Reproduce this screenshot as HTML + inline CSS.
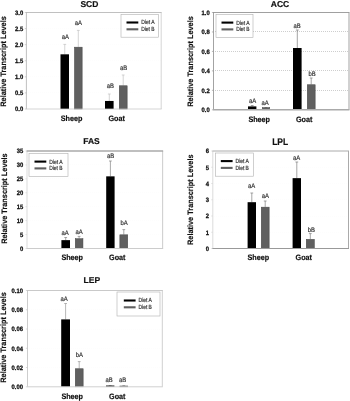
<!DOCTYPE html>
<html><head><meta charset="utf-8"><title>Relative Transcript Levels</title>
<style>html,body{margin:0;padding:0;background:#fff}svg{display:block}text{font-family:"Liberation Sans", sans-serif;text-rendering:geometricPrecision}.b{font-weight:bold;fill:#111;stroke:#111;stroke-width:0.18}.r{stroke-width:0.2}.t{stroke-width:0.28}</style></head>
<body>
<svg width="350" height="401" viewBox="0 0 350 401">
<rect width="350" height="401" fill="#fff"/>
<g>
<line x1="28" y1="92.5" x2="161.2" y2="92.5" stroke="#fcfcfc" stroke-width="0.8" stroke-dasharray="1 1"/>
<line x1="28" y1="76.5" x2="161.2" y2="76.5" stroke="#fcfcfc" stroke-width="0.8" stroke-dasharray="1 1"/>
<line x1="28" y1="60.5" x2="161.2" y2="60.5" stroke="#fcfcfc" stroke-width="0.8" stroke-dasharray="1 1"/>
<line x1="28" y1="44.5" x2="161.2" y2="44.5" stroke="#fcfcfc" stroke-width="0.8" stroke-dasharray="1 1"/>
<line x1="28" y1="28.5" x2="161.2" y2="28.5" stroke="#fcfcfc" stroke-width="0.8" stroke-dasharray="1 1"/>
<line x1="161.2" y1="12.5" x2="161.2" y2="109" stroke="#cacaca" stroke-width="0.8"/>
<line x1="26.4" y1="12.5" x2="26.4" y2="109" stroke="#b0b0b0" stroke-width="0.8"/>
<line x1="26" y1="12.5" x2="161.6" y2="12.5" stroke="#b0b0b0" stroke-width="0.8"/>
<line x1="24.8" y1="109" x2="26.4" y2="109" stroke="#b0b0b0" stroke-width="0.6"/>
<text transform="translate(23.2 111.3) scale(0.93 1)" font-size="6.3" class="b t" text-anchor="end">0.0</text>
<line x1="24.8" y1="92.92" x2="26.4" y2="92.92" stroke="#b0b0b0" stroke-width="0.6"/>
<text transform="translate(23.2 95.22) scale(0.93 1)" font-size="6.3" class="b t" text-anchor="end">0.5</text>
<line x1="24.8" y1="76.83" x2="26.4" y2="76.83" stroke="#b0b0b0" stroke-width="0.6"/>
<text transform="translate(23.2 79.13) scale(0.93 1)" font-size="6.3" class="b t" text-anchor="end">1.0</text>
<line x1="24.8" y1="60.75" x2="26.4" y2="60.75" stroke="#b0b0b0" stroke-width="0.6"/>
<text transform="translate(23.2 63.05) scale(0.93 1)" font-size="6.3" class="b t" text-anchor="end">1.5</text>
<line x1="24.8" y1="44.67" x2="26.4" y2="44.67" stroke="#b0b0b0" stroke-width="0.6"/>
<text transform="translate(23.2 46.97) scale(0.93 1)" font-size="6.3" class="b t" text-anchor="end">2.0</text>
<line x1="24.8" y1="28.58" x2="26.4" y2="28.58" stroke="#b0b0b0" stroke-width="0.6"/>
<text transform="translate(23.2 30.88) scale(0.93 1)" font-size="6.3" class="b t" text-anchor="end">2.5</text>
<line x1="24.8" y1="12.5" x2="26.4" y2="12.5" stroke="#b0b0b0" stroke-width="0.6"/>
<text transform="translate(23.2 14.8) scale(0.93 1)" font-size="6.3" class="b t" text-anchor="end">3.0</text>
<line x1="64.75" y1="44.4" x2="64.75" y2="54.32" stroke="#c2c2c2" stroke-width="0.7"/>
<line x1="63.35" y1="44.4" x2="66.15" y2="44.4" stroke="#c2c2c2" stroke-width="0.7"/>
<rect x="60.5" y="54.32" width="8.5" height="54.68" fill="#000"/>
<text transform="translate(65.4 39.1) scale(0.92 1)" font-size="6.45" class="r" text-anchor="middle" fill="#383838" stroke="#383838">aA</text>
<line x1="78.3" y1="30.4" x2="78.3" y2="46.92" stroke="#c2c2c2" stroke-width="0.7"/>
<line x1="76.9" y1="30.4" x2="79.7" y2="30.4" stroke="#c2c2c2" stroke-width="0.7"/>
<rect x="74.45" y="47.17" width="7.7" height="61.83" fill="#606060" stroke="#444" stroke-width="0.5"/>
<text transform="translate(78.4 25.1) scale(0.92 1)" font-size="6.45" class="r" text-anchor="middle" fill="#383838" stroke="#383838">aA</text>
<line x1="109.3" y1="94" x2="109.3" y2="100.96" stroke="#c2c2c2" stroke-width="0.7"/>
<line x1="107.9" y1="94" x2="110.7" y2="94" stroke="#c2c2c2" stroke-width="0.7"/>
<rect x="105" y="100.96" width="8.6" height="8.04" fill="#000"/>
<text transform="translate(110.4 88.1) scale(0.92 1)" font-size="6.45" class="r" text-anchor="middle" fill="#383838" stroke="#383838">aB</text>
<line x1="123.2" y1="75" x2="123.2" y2="85.52" stroke="#c2c2c2" stroke-width="0.7"/>
<line x1="121.8" y1="75" x2="124.6" y2="75" stroke="#c2c2c2" stroke-width="0.7"/>
<rect x="119.25" y="85.77" width="7.9" height="23.23" fill="#606060" stroke="#444" stroke-width="0.5"/>
<text transform="translate(123.6 70.1) scale(0.92 1)" font-size="6.45" class="r" text-anchor="middle" fill="#383838" stroke="#383838">aB</text>
<line x1="26" y1="109" x2="161.6" y2="109" stroke="#cacaca" stroke-width="0.8"/>
<rect x="121" y="14.4" width="37.4" height="22.8" fill="#fff" stroke="#b0b0b0" stroke-width="0.6"/>
<line x1="126.5" y1="22.5" x2="138.3" y2="22.5" stroke="#000" stroke-width="2.1"/>
<line x1="126.5" y1="29.3" x2="138.3" y2="29.3" stroke="#606060" stroke-width="2.1"/>
<text x="141.2" y="24.4" font-size="6.0" class="r" textLength="13.4" lengthAdjust="spacingAndGlyphs" fill="#333" stroke="#333">Diet A</text>
<text x="141.2" y="31.2" font-size="6.0" class="r" textLength="13.4" lengthAdjust="spacingAndGlyphs" fill="#333" stroke="#333">Diet B</text>
<text transform="translate(71.5 120.95) scale(0.92 1)" font-size="7.85" class="b" text-anchor="middle">Sheep</text>
<text transform="translate(116.7 120.95) scale(0.92 1)" font-size="7.85" class="b" text-anchor="middle">Goat</text>
<text x="89.4" y="6.8" font-size="8.5" class="b" text-anchor="middle">SCD</text>
<text transform="translate(5.9 61.5) rotate(-90) scale(0.935 1)" font-size="7.85" class="b" text-anchor="middle">Relative Transcript Levels</text>
</g>
<g>
<line x1="215" y1="90.5" x2="349" y2="90.5" stroke="#cecece" stroke-width="1.0" stroke-dasharray="1 1"/>
<line x1="215" y1="70.5" x2="349" y2="70.5" stroke="#cecece" stroke-width="1.0" stroke-dasharray="1 1"/>
<line x1="215" y1="51.5" x2="349" y2="51.5" stroke="#cecece" stroke-width="1.0" stroke-dasharray="1 1"/>
<line x1="215" y1="31.5" x2="349" y2="31.5" stroke="#cecece" stroke-width="1.0" stroke-dasharray="1 1"/>
<line x1="349" y1="12.5" x2="349" y2="109.8" stroke="#999" stroke-width="0.9"/>
<line x1="213.5" y1="12.5" x2="213.5" y2="109.8" stroke="#8c8c8c" stroke-width="0.8"/>
<line x1="213.1" y1="12.5" x2="349.45" y2="12.5" stroke="#888" stroke-width="0.8"/>
<line x1="211.9" y1="109.8" x2="213.5" y2="109.8" stroke="#8c8c8c" stroke-width="0.6"/>
<text transform="translate(209.7 112.1) scale(0.93 1)" font-size="6.3" class="b t" text-anchor="end">0.0</text>
<line x1="211.9" y1="90.34" x2="213.5" y2="90.34" stroke="#8c8c8c" stroke-width="0.6"/>
<text transform="translate(209.7 92.64) scale(0.93 1)" font-size="6.3" class="b t" text-anchor="end">0.2</text>
<line x1="211.9" y1="70.88" x2="213.5" y2="70.88" stroke="#8c8c8c" stroke-width="0.6"/>
<text transform="translate(209.7 73.18) scale(0.93 1)" font-size="6.3" class="b t" text-anchor="end">0.4</text>
<line x1="211.9" y1="51.42" x2="213.5" y2="51.42" stroke="#8c8c8c" stroke-width="0.6"/>
<text transform="translate(209.7 53.72) scale(0.93 1)" font-size="6.3" class="b t" text-anchor="end">0.6</text>
<line x1="211.9" y1="31.96" x2="213.5" y2="31.96" stroke="#8c8c8c" stroke-width="0.6"/>
<text transform="translate(209.7 34.26) scale(0.93 1)" font-size="6.3" class="b t" text-anchor="end">0.8</text>
<line x1="211.9" y1="12.5" x2="213.5" y2="12.5" stroke="#8c8c8c" stroke-width="0.6"/>
<text transform="translate(209.7 14.8) scale(0.93 1)" font-size="6.3" class="b t" text-anchor="end">1.0</text>
<line x1="252.2" y1="105.5" x2="252.2" y2="106.39" stroke="#7c7c7c" stroke-width="0.7"/>
<line x1="250.8" y1="105.5" x2="253.6" y2="105.5" stroke="#7c7c7c" stroke-width="0.7"/>
<rect x="248" y="106.39" width="8.4" height="3.41" fill="#000"/>
<text transform="translate(252.6 103.1) scale(0.92 1)" font-size="6.45" class="r" text-anchor="middle" fill="#383838" stroke="#383838">aA</text>
<line x1="266" y1="107.5" x2="266" y2="107.37" stroke="#7c7c7c" stroke-width="0.7"/>
<line x1="264.6" y1="107.5" x2="267.4" y2="107.5" stroke="#7c7c7c" stroke-width="0.7"/>
<rect x="262.25" y="107.62" width="7.5" height="2.18" fill="#606060" stroke="#444" stroke-width="0.5"/>
<text transform="translate(265 104.7) scale(0.92 1)" font-size="6.45" class="r" text-anchor="middle" fill="#383838" stroke="#383838">aA</text>
<line x1="297.3" y1="30" x2="297.3" y2="48.01" stroke="#7c7c7c" stroke-width="0.7"/>
<line x1="295.9" y1="30" x2="298.7" y2="30" stroke="#7c7c7c" stroke-width="0.7"/>
<rect x="293" y="48.01" width="8.6" height="61.79" fill="#000"/>
<text transform="translate(297 27.7) scale(0.92 1)" font-size="6.45" class="r" text-anchor="middle" fill="#383838" stroke="#383838">aB</text>
<line x1="311.2" y1="78" x2="311.2" y2="84.5" stroke="#7c7c7c" stroke-width="0.7"/>
<line x1="309.8" y1="78" x2="312.6" y2="78" stroke="#7c7c7c" stroke-width="0.7"/>
<rect x="307.25" y="84.75" width="7.9" height="25.05" fill="#606060" stroke="#444" stroke-width="0.5"/>
<text transform="translate(312 76.1) scale(0.92 1)" font-size="6.45" class="r" text-anchor="middle" fill="#383838" stroke="#383838">bB</text>
<line x1="213.1" y1="109.8" x2="349.45" y2="109.8" stroke="#aaa" stroke-width="1.5"/>
<rect x="216" y="14.5" width="37" height="23" fill="#fff" stroke="#b0b0b0" stroke-width="0.6"/>
<line x1="221.5" y1="22.6" x2="233.3" y2="22.6" stroke="#000" stroke-width="2.1"/>
<line x1="221.5" y1="29.4" x2="233.3" y2="29.4" stroke="#606060" stroke-width="2.1"/>
<text x="236.2" y="24.5" font-size="6.0" class="r" textLength="13.4" lengthAdjust="spacingAndGlyphs" fill="#333" stroke="#333">Diet A</text>
<text x="236.2" y="31.3" font-size="6.0" class="r" textLength="13.4" lengthAdjust="spacingAndGlyphs" fill="#333" stroke="#333">Diet B</text>
<text transform="translate(259.2 121.75) scale(0.92 1)" font-size="7.85" class="b" text-anchor="middle">Sheep</text>
<text transform="translate(304.2 121.75) scale(0.92 1)" font-size="7.85" class="b" text-anchor="middle">Goat</text>
<text x="280" y="6.8" font-size="8.5" class="b" text-anchor="middle">ACC</text>
<text transform="translate(192.5 61.5) rotate(-90) scale(0.935 1)" font-size="7.85" class="b" text-anchor="middle">Relative Transcript Levels</text>
</g>
<g>
<line x1="28" y1="234.5" x2="162.6" y2="234.5" stroke="#fcfcfc" stroke-width="0.8" stroke-dasharray="1 1"/>
<line x1="28" y1="220.5" x2="162.6" y2="220.5" stroke="#fcfcfc" stroke-width="0.8" stroke-dasharray="1 1"/>
<line x1="28" y1="206.5" x2="162.6" y2="206.5" stroke="#fcfcfc" stroke-width="0.8" stroke-dasharray="1 1"/>
<line x1="28" y1="192.5" x2="162.6" y2="192.5" stroke="#fcfcfc" stroke-width="0.8" stroke-dasharray="1 1"/>
<line x1="28" y1="178.5" x2="162.6" y2="178.5" stroke="#fcfcfc" stroke-width="0.8" stroke-dasharray="1 1"/>
<line x1="28" y1="164.5" x2="162.6" y2="164.5" stroke="#fcfcfc" stroke-width="0.8" stroke-dasharray="1 1"/>
<line x1="162.6" y1="151" x2="162.6" y2="248.5" stroke="#d0d0d0" stroke-width="1.1"/>
<line x1="27" y1="151" x2="27" y2="248.5" stroke="#d2d2d2" stroke-width="0.8"/>
<line x1="26.6" y1="151" x2="163.15" y2="151" stroke="#aaa" stroke-width="1.3"/>
<line x1="25.4" y1="248.5" x2="27" y2="248.5" stroke="#d2d2d2" stroke-width="0.6"/>
<text transform="translate(23.2 250.8) scale(0.93 1)" font-size="6.3" class="b t" text-anchor="end">0</text>
<line x1="25.4" y1="234.57" x2="27" y2="234.57" stroke="#d2d2d2" stroke-width="0.6"/>
<text transform="translate(23.2 236.87) scale(0.93 1)" font-size="6.3" class="b t" text-anchor="end">5</text>
<line x1="25.4" y1="220.64" x2="27" y2="220.64" stroke="#d2d2d2" stroke-width="0.6"/>
<text transform="translate(23.2 222.94) scale(0.93 1)" font-size="6.3" class="b t" text-anchor="end">10</text>
<line x1="25.4" y1="206.71" x2="27" y2="206.71" stroke="#d2d2d2" stroke-width="0.6"/>
<text transform="translate(23.2 209.01) scale(0.93 1)" font-size="6.3" class="b t" text-anchor="end">15</text>
<line x1="25.4" y1="192.79" x2="27" y2="192.79" stroke="#d2d2d2" stroke-width="0.6"/>
<text transform="translate(23.2 195.09) scale(0.93 1)" font-size="6.3" class="b t" text-anchor="end">20</text>
<line x1="25.4" y1="178.86" x2="27" y2="178.86" stroke="#d2d2d2" stroke-width="0.6"/>
<text transform="translate(23.2 181.16) scale(0.93 1)" font-size="6.3" class="b t" text-anchor="end">25</text>
<line x1="25.4" y1="164.93" x2="27" y2="164.93" stroke="#d2d2d2" stroke-width="0.6"/>
<text transform="translate(23.2 167.23) scale(0.93 1)" font-size="6.3" class="b t" text-anchor="end">30</text>
<line x1="25.4" y1="151" x2="27" y2="151" stroke="#d2d2d2" stroke-width="0.6"/>
<text transform="translate(23.2 153.3) scale(0.93 1)" font-size="6.3" class="b t" text-anchor="end">35</text>
<line x1="65.7" y1="237.5" x2="65.7" y2="240.14" stroke="#848484" stroke-width="0.7"/>
<line x1="64.3" y1="237.5" x2="67.1" y2="237.5" stroke="#848484" stroke-width="0.7"/>
<rect x="61.4" y="240.14" width="8.6" height="8.36" fill="#000"/>
<text transform="translate(65 234.5) scale(0.92 1)" font-size="6.45" class="r" text-anchor="middle" fill="#383838" stroke="#383838">aA</text>
<line x1="79.1" y1="236.4" x2="79.1" y2="238.47" stroke="#848484" stroke-width="0.7"/>
<line x1="77.7" y1="236.4" x2="80.5" y2="236.4" stroke="#848484" stroke-width="0.7"/>
<rect x="75.25" y="238.72" width="7.7" height="9.78" fill="#606060" stroke="#444" stroke-width="0.5"/>
<text transform="translate(79 233.5) scale(0.92 1)" font-size="6.45" class="r" text-anchor="middle" fill="#383838" stroke="#383838">aA</text>
<line x1="110.4" y1="161" x2="110.4" y2="176.35" stroke="#848484" stroke-width="0.7"/>
<line x1="109" y1="161" x2="111.8" y2="161" stroke="#848484" stroke-width="0.7"/>
<rect x="106.2" y="176.35" width="8.4" height="72.15" fill="#000"/>
<text transform="translate(110.6 157.7) scale(0.92 1)" font-size="6.45" class="r" text-anchor="middle" fill="#383838" stroke="#383838">aB</text>
<line x1="123.8" y1="229.6" x2="123.8" y2="234.57" stroke="#848484" stroke-width="0.7"/>
<line x1="122.4" y1="229.6" x2="125.2" y2="229.6" stroke="#848484" stroke-width="0.7"/>
<rect x="119.85" y="234.82" width="7.9" height="13.68" fill="#606060" stroke="#444" stroke-width="0.5"/>
<text transform="translate(124 224.5) scale(0.92 1)" font-size="6.45" class="r" text-anchor="middle" fill="#383838" stroke="#383838">bA</text>
<line x1="26.6" y1="248.5" x2="163.15" y2="248.5" stroke="#ccc" stroke-width="1.1"/>
<rect x="29" y="153.5" width="39" height="22.9" fill="#fff" stroke="#b0b0b0" stroke-width="0.6"/>
<line x1="34.5" y1="161.6" x2="46.3" y2="161.6" stroke="#000" stroke-width="2.1"/>
<line x1="34.5" y1="168.4" x2="46.3" y2="168.4" stroke="#606060" stroke-width="2.1"/>
<text x="49.2" y="163.5" font-size="6.0" class="r" textLength="13.4" lengthAdjust="spacingAndGlyphs" fill="#333" stroke="#333">Diet A</text>
<text x="49.2" y="170.3" font-size="6.0" class="r" textLength="13.4" lengthAdjust="spacingAndGlyphs" fill="#333" stroke="#333">Diet B</text>
<text transform="translate(72.2 260.35) scale(0.92 1)" font-size="7.85" class="b" text-anchor="middle">Sheep</text>
<text transform="translate(117.3 260.35) scale(0.92 1)" font-size="7.85" class="b" text-anchor="middle">Goat</text>
<text x="91.5" y="143.6" font-size="8.5" class="b" text-anchor="middle">FAS</text>
<text transform="translate(6.7 198.6) rotate(-90) scale(0.935 1)" font-size="7.85" class="b" text-anchor="middle">Relative Transcript Levels</text>
</g>
<g>
<line x1="214" y1="232.5" x2="348.5" y2="232.5" stroke="#fcfcfc" stroke-width="0.8" stroke-dasharray="1 1"/>
<line x1="214" y1="216.5" x2="348.5" y2="216.5" stroke="#fcfcfc" stroke-width="0.8" stroke-dasharray="1 1"/>
<line x1="214" y1="199.5" x2="348.5" y2="199.5" stroke="#fcfcfc" stroke-width="0.8" stroke-dasharray="1 1"/>
<line x1="214" y1="183.5" x2="348.5" y2="183.5" stroke="#fcfcfc" stroke-width="0.8" stroke-dasharray="1 1"/>
<line x1="214" y1="167.5" x2="348.5" y2="167.5" stroke="#fcfcfc" stroke-width="0.8" stroke-dasharray="1 1"/>
<line x1="348.5" y1="151" x2="348.5" y2="248.5" stroke="#aaa" stroke-width="1.0"/>
<line x1="212.8" y1="151" x2="212.8" y2="248.5" stroke="#d2d2d2" stroke-width="0.8"/>
<line x1="212.4" y1="151" x2="349" y2="151" stroke="#aaa" stroke-width="1.0"/>
<line x1="211.2" y1="248.5" x2="212.8" y2="248.5" stroke="#d2d2d2" stroke-width="0.6"/>
<text transform="translate(208.9 250.8) scale(0.93 1)" font-size="6.3" class="b t" text-anchor="end">0</text>
<line x1="211.2" y1="232.25" x2="212.8" y2="232.25" stroke="#d2d2d2" stroke-width="0.6"/>
<text transform="translate(208.9 234.55) scale(0.93 1)" font-size="6.3" class="b t" text-anchor="end">1</text>
<line x1="211.2" y1="216" x2="212.8" y2="216" stroke="#d2d2d2" stroke-width="0.6"/>
<text transform="translate(208.9 218.3) scale(0.93 1)" font-size="6.3" class="b t" text-anchor="end">2</text>
<line x1="211.2" y1="199.75" x2="212.8" y2="199.75" stroke="#d2d2d2" stroke-width="0.6"/>
<text transform="translate(208.9 202.05) scale(0.93 1)" font-size="6.3" class="b t" text-anchor="end">3</text>
<line x1="211.2" y1="183.5" x2="212.8" y2="183.5" stroke="#d2d2d2" stroke-width="0.6"/>
<text transform="translate(208.9 185.8) scale(0.93 1)" font-size="6.3" class="b t" text-anchor="end">4</text>
<line x1="211.2" y1="167.25" x2="212.8" y2="167.25" stroke="#d2d2d2" stroke-width="0.6"/>
<text transform="translate(208.9 169.55) scale(0.93 1)" font-size="6.3" class="b t" text-anchor="end">5</text>
<line x1="211.2" y1="151" x2="212.8" y2="151" stroke="#d2d2d2" stroke-width="0.6"/>
<text transform="translate(208.9 153.3) scale(0.93 1)" font-size="6.3" class="b t" text-anchor="end">6</text>
<line x1="251.8" y1="193" x2="251.8" y2="202.19" stroke="#808080" stroke-width="0.7"/>
<line x1="250.4" y1="193" x2="253.2" y2="193" stroke="#808080" stroke-width="0.7"/>
<rect x="247.6" y="202.19" width="8.4" height="46.31" fill="#000"/>
<text transform="translate(251.6 187.7) scale(0.92 1)" font-size="6.45" class="r" text-anchor="middle" fill="#383838" stroke="#383838">aA</text>
<line x1="265.2" y1="201" x2="265.2" y2="206.9" stroke="#808080" stroke-width="0.7"/>
<line x1="263.8" y1="201" x2="266.6" y2="201" stroke="#808080" stroke-width="0.7"/>
<rect x="261.25" y="207.15" width="7.9" height="41.35" fill="#606060" stroke="#444" stroke-width="0.5"/>
<text transform="translate(265.4 198.1) scale(0.92 1)" font-size="6.45" class="r" text-anchor="middle" fill="#383838" stroke="#383838">aA</text>
<line x1="296.8" y1="162" x2="296.8" y2="178.14" stroke="#808080" stroke-width="0.7"/>
<line x1="295.4" y1="162" x2="298.2" y2="162" stroke="#808080" stroke-width="0.7"/>
<rect x="292.6" y="178.14" width="8.4" height="70.36" fill="#000"/>
<text transform="translate(296.6 159.5) scale(0.92 1)" font-size="6.45" class="r" text-anchor="middle" fill="#383838" stroke="#383838">aA</text>
<line x1="310.3" y1="233.6" x2="310.3" y2="239.07" stroke="#808080" stroke-width="0.7"/>
<line x1="308.9" y1="233.6" x2="311.7" y2="233.6" stroke="#808080" stroke-width="0.7"/>
<rect x="306.25" y="239.32" width="8.1" height="9.18" fill="#606060" stroke="#444" stroke-width="0.5"/>
<text transform="translate(311.4 231.7) scale(0.92 1)" font-size="6.45" class="r" text-anchor="middle" fill="#383838" stroke="#383838">bB</text>
<line x1="212.4" y1="248.5" x2="349" y2="248.5" stroke="#999" stroke-width="1.0"/>
<rect x="215.3" y="153" width="38.3" height="23.2" fill="#fff" stroke="#b0b0b0" stroke-width="0.6"/>
<line x1="220.8" y1="161.1" x2="232.6" y2="161.1" stroke="#000" stroke-width="2.1"/>
<line x1="220.8" y1="167.9" x2="232.6" y2="167.9" stroke="#606060" stroke-width="2.1"/>
<text x="235.5" y="163" font-size="6.0" class="r" textLength="13.4" lengthAdjust="spacingAndGlyphs" fill="#333" stroke="#333">Diet A</text>
<text x="235.5" y="169.8" font-size="6.0" class="r" textLength="13.4" lengthAdjust="spacingAndGlyphs" fill="#333" stroke="#333">Diet B</text>
<text transform="translate(258.3 260.35) scale(0.92 1)" font-size="7.85" class="b" text-anchor="middle">Sheep</text>
<text transform="translate(303.8 260.35) scale(0.92 1)" font-size="7.85" class="b" text-anchor="middle">Goat</text>
<text transform="translate(280.2 144.7) scale(0.885 1)" font-size="9.6" class="b" text-anchor="middle">LPL</text>
<text transform="translate(192.9 199.7) rotate(-90) scale(0.935 1)" font-size="7.85" class="b" text-anchor="middle">Relative Transcript Levels</text>
</g>
<g>
<line x1="29" y1="367.5" x2="162.3" y2="367.5" stroke="#fcfcfc" stroke-width="0.8" stroke-dasharray="1 1"/>
<line x1="29" y1="348.5" x2="162.3" y2="348.5" stroke="#fcfcfc" stroke-width="0.8" stroke-dasharray="1 1"/>
<line x1="29" y1="329.5" x2="162.3" y2="329.5" stroke="#fcfcfc" stroke-width="0.8" stroke-dasharray="1 1"/>
<line x1="29" y1="309.5" x2="162.3" y2="309.5" stroke="#fcfcfc" stroke-width="0.8" stroke-dasharray="1 1"/>
<line x1="162.3" y1="290.5" x2="162.3" y2="386.8" stroke="#d0d0d0" stroke-width="1.0"/>
<line x1="27.5" y1="290.5" x2="27.5" y2="386.8" stroke="#c0c0c0" stroke-width="0.8"/>
<line x1="27.1" y1="290.5" x2="162.8" y2="290.5" stroke="#bbb" stroke-width="0.8"/>
<line x1="25.9" y1="386.8" x2="27.5" y2="386.8" stroke="#c0c0c0" stroke-width="0.6"/>
<text transform="translate(23 389.1) scale(0.93 1)" font-size="6.3" class="b t" text-anchor="end">0.00</text>
<line x1="25.9" y1="367.54" x2="27.5" y2="367.54" stroke="#c0c0c0" stroke-width="0.6"/>
<text transform="translate(23 369.84) scale(0.93 1)" font-size="6.3" class="b t" text-anchor="end">0.02</text>
<line x1="25.9" y1="348.28" x2="27.5" y2="348.28" stroke="#c0c0c0" stroke-width="0.6"/>
<text transform="translate(23 350.58) scale(0.93 1)" font-size="6.3" class="b t" text-anchor="end">0.04</text>
<line x1="25.9" y1="329.02" x2="27.5" y2="329.02" stroke="#c0c0c0" stroke-width="0.6"/>
<text transform="translate(23 331.32) scale(0.93 1)" font-size="6.3" class="b t" text-anchor="end">0.06</text>
<line x1="25.9" y1="309.76" x2="27.5" y2="309.76" stroke="#c0c0c0" stroke-width="0.6"/>
<text transform="translate(23 312.06) scale(0.93 1)" font-size="6.3" class="b t" text-anchor="end">0.08</text>
<line x1="25.9" y1="290.5" x2="27.5" y2="290.5" stroke="#c0c0c0" stroke-width="0.6"/>
<text transform="translate(23 292.8) scale(0.93 1)" font-size="6.3" class="b t" text-anchor="end">0.10</text>
<line x1="65.6" y1="303.5" x2="65.6" y2="319.39" stroke="#999" stroke-width="0.7"/>
<line x1="64.2" y1="303.5" x2="67" y2="303.5" stroke="#999" stroke-width="0.7"/>
<rect x="61.2" y="319.39" width="8.8" height="67.41" fill="#000"/>
<text transform="translate(64 301.3) scale(0.92 1)" font-size="6.45" class="r" text-anchor="middle" fill="#383838" stroke="#383838">aA</text>
<line x1="79.2" y1="361.6" x2="79.2" y2="368.5" stroke="#999" stroke-width="0.7"/>
<line x1="77.8" y1="361.6" x2="80.6" y2="361.6" stroke="#999" stroke-width="0.7"/>
<rect x="75.25" y="368.75" width="7.9" height="18.05" fill="#606060" stroke="#444" stroke-width="0.5"/>
<text transform="translate(79.4 357.1) scale(0.92 1)" font-size="6.45" class="r" text-anchor="middle" fill="#383838" stroke="#383838">bA</text>
<line x1="110.2" y1="385.6" x2="110.2" y2="385.55" stroke="#999" stroke-width="0.7"/>
<line x1="108.8" y1="385.6" x2="111.6" y2="385.6" stroke="#999" stroke-width="0.7"/>
<rect x="106" y="385.55" width="8.4" height="1.25" fill="#000"/>
<text transform="translate(109 382.3) scale(0.92 1)" font-size="6.45" class="r" text-anchor="middle" fill="#383838" stroke="#383838">aB</text>
<line x1="123.8" y1="385.6" x2="123.8" y2="385.74" stroke="#999" stroke-width="0.7"/>
<line x1="122.4" y1="385.6" x2="125.2" y2="385.6" stroke="#999" stroke-width="0.7"/>
<rect x="119.85" y="385.99" width="7.9" height="0.81" fill="#606060" stroke="#444" stroke-width="0.5"/>
<text transform="translate(122.6 382.3) scale(0.92 1)" font-size="6.45" class="r" text-anchor="middle" fill="#383838" stroke="#383838">aB</text>
<line x1="27.1" y1="386.8" x2="162.8" y2="386.8" stroke="#d0d0d0" stroke-width="1.0"/>
<rect x="117" y="292" width="43" height="24" fill="#fff" stroke="#b0b0b0" stroke-width="0.6"/>
<line x1="123.8" y1="300.5" x2="135.6" y2="300.5" stroke="#000" stroke-width="2.1"/>
<line x1="123.8" y1="307.3" x2="135.6" y2="307.3" stroke="#606060" stroke-width="2.1"/>
<text x="138.5" y="302.4" font-size="6.0" class="r" textLength="13.4" lengthAdjust="spacingAndGlyphs" fill="#333" stroke="#333">Diet A</text>
<text x="138.5" y="309.2" font-size="6.0" class="r" textLength="13.4" lengthAdjust="spacingAndGlyphs" fill="#333" stroke="#333">Diet B</text>
<text transform="translate(72.2 398.95) scale(0.92 1)" font-size="7.85" class="b" text-anchor="middle">Sheep</text>
<text transform="translate(117.3 398.95) scale(0.92 1)" font-size="7.85" class="b" text-anchor="middle">Goat</text>
<text x="91.8" y="283.3" font-size="8.5" class="b" text-anchor="middle">LEP</text>
<text transform="translate(5.9 337.5) rotate(-90) scale(0.935 1)" font-size="7.85" class="b" text-anchor="middle">Relative Transcript Levels</text>
</g>
</svg>
</body></html>
